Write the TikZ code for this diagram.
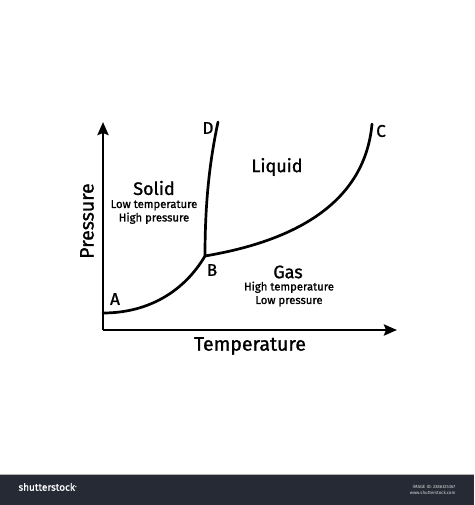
\documentclass[tikz,border=0pt]{standalone}
\usepackage{fontspec}
\setmainfont{Fira Sans}[BoldFont={Fira Sans},BoldFeatures={FakeBold=1.2}]
\usetikzlibrary{arrows.meta}
\definecolor{barcol}{HTML}{252A35}
\tikzset{
  curve/.style={line width=2.7pt, line cap=round},
  axis/.style={line width=2.7pt, -{Stealth[length=13pt,width=11pt,inset=2pt]}},
  big/.style={font=\fontsize{18}{20}\selectfont\bfseries},
  small/.style={font=\fontsize{11.3}{13.5}\selectfont\bfseries, align=center},
  axlabel/.style={font=\fontsize{19.5}{22}\selectfont\bfseries},
  pt/.style={font=\fontsize{17}{19}\selectfont\bfseries},
}
\begin{document}
\begin{tikzpicture}[x=1pt,y=-1pt]
\useasboundingbox (0,0) rectangle (474,505);
\fill[white] (0,0) rectangle (474,505);
% axes
\coordinate (O) at (103,330);
\coordinate (Ytop) at (103,122);
\coordinate (Xend) at (397,330);
\draw[axis] (O) -- (Ytop);
\draw[axis] (O) -- (Xend);
% phase boundaries
\coordinate (A) at (103,313);
\coordinate (B) at (205,256);
\coordinate (C) at (372,124);
\coordinate (D) at (218,122);
\draw[curve] (A) .. controls (150,313) and (185,290) .. (B);
\draw[curve] (B) .. controls (300,240) and (365,200) .. (C);
\draw[curve] (B) .. controls (205,200) and (210,160) .. (D);
% point labels
\node[pt] (lA) at (115,299) {A};
\node[pt] (lB) at (212,270) {B};
\node[pt] (lC) at (381,131) {C};
\node[pt] (lD) at (208,128) {D};
% regions
\node[big] (solid) at (154,188) {Solid};
\node[small] (solidt) at (154,212) {Low temperature\\High pressure};
\node[big] (liquid) at (277,167) {Liquid};
\node[big] (gas) at (288,272) {Gas};
\node[small] (gast) at (289,294) {High temperature\\Low pressure};
% axis labels
\node[axlabel, rotate=90] (py) at (87,221) {Pressure};
\node[axlabel] (px) at (250,346) {Temperature};
% bottom bar
\fill[barcol] (0,474) rectangle (474,505);
\draw[gray!60, line width=0.6pt] (0,474) -- (474,474);
\node[white, font=\fontsize{10}{12}\selectfont\bfseries, anchor=west] (ss) at (15,487) {shutterstock\textsuperscript{.}};
\node[white!80!barcol, font=\fontsize{4.5}{6}\selectfont, anchor=east, align=right] (id) at (459,490) {IMAGE ID: 2386325367\\www.shutterstock.com};
\end{tikzpicture}
\end{document}
